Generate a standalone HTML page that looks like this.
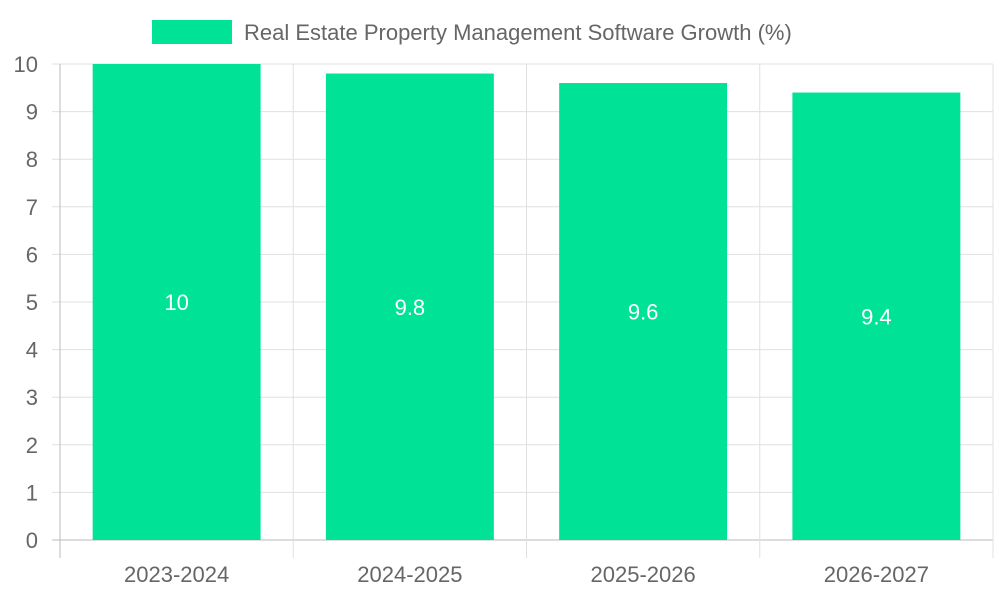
<!DOCTYPE html>
<html><head><meta charset="utf-8"><style>
html,body{margin:0;padding:0;background:#fff;}
svg{display:block;font-family:"Liberation Sans",sans-serif;}
</style></head><body>
<svg id="chart" width="1000" height="600">
<g id="legend">
<rect x="152" y="20" width="80" height="24" fill="#00e396"></rect>
<text x="244" y="40" font-size="22" fill="#666">Real Estate Property Management Software Growth (%)</text>
</g>
<g id="grid"></g><g id="bars"></g><g id="labels"></g>
</svg>
<script>
const categories=["2023-2024","2024-2025","2025-2026","2026-2027"];
const values=[10,9.8,9.6,9.4];
const yTicks=[0,1,2,3,4,5,6,7,8,9,10];
const NS="http://www.w3.org/2000/svg";
const L=60,R=993,T=64,B=540,yMax=10;
const y=v=>B-(v/yMax)*(B-T);
const bw=(R-L)/categories.length;
const x=i=>L+i*bw;
function mk(tag,attrs,parent,txt){const e=document.createElementNS(NS,tag);for(const k in attrs)e.setAttribute(k,attrs[k]);if(txt!==undefined)e.textContent=txt;parent.appendChild(e);return e;}
const grid=document.getElementById('grid'),bars=document.getElementById('bars'),labels=document.getElementById('labels');
yTicks.forEach(t=>{
 const ln=mk('line',{x1:L-8,x2:R,y1:y(t),y2:y(t),stroke:t===0?'#bbb':'#e0e0e0','stroke-width':1},grid);
 
 
 const tx=mk('text',{x:38,y:y(t)+8,'text-anchor':'end','font-size':22,fill:'#666'},grid,String(t));
 
 
});
for(let i=0;i<=categories.length;i++){
 const ln=mk('line',{x1:x(i),x2:x(i),y1:T,y2:B+18,stroke:i===0?'#bbb':'#e0e0e0','stroke-width':1},grid);
 
 
}
categories.forEach((c,i)=>{
 const cx=x(i)+bw/2,w=bw*0.72;
 const r=mk('rect',{x:cx-w/2,y:y(values[i]),width:w,height:B-y(values[i]),fill:'#00e396'},bars);
 
 
 const v=mk('text',{x:cx,y:(y(values[i])+B)/2+8,'text-anchor':'middle','font-size':22,fill:'#fff'},labels,String(values[i]));
 
 
 const xl=mk('text',{x:cx,y:582,'text-anchor':'middle','font-size':22,fill:'#666'},labels,c);
 
 
});
</script>
</body></html>
